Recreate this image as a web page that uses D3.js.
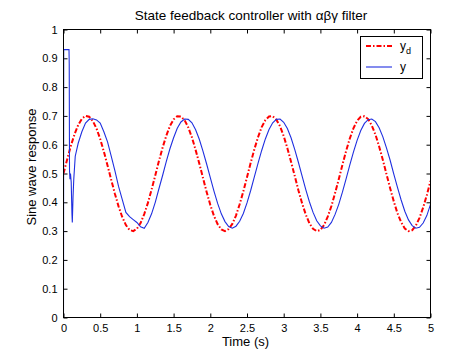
<!DOCTYPE html>
<html><head><meta charset="utf-8">
<script src="https://cdn.jsdelivr.net/npm/d3@7"></script>
<style>
body{margin:0;background:#fff;}
text{font-family:"Liberation Sans",Arial,sans-serif;fill:#000;}
</style></head>
<body>
<svg id="chart" width="474" height="355"></svg>
<script>
// ---- data ----
const sampleStep = 0.05; // seconds between samples of the regular records
// desired output y_d, sampled every 0.05 s from 0 to 5 s
const ydValues = [0.500,0.549,0.596,0.636,0.668,0.690,0.700,0.697,0.682,0.656,
0.620,0.576,0.528,0.478,0.430,0.386,0.349,0.321,0.304,0.300,
0.308,0.328,0.359,0.398,0.444,0.493,0.543,0.590,0.631,0.665,
0.688,0.699,0.698,0.685,0.660,0.625,0.582,0.535,0.485,0.436,
0.391,0.353,0.324,0.306,0.300,0.307,0.325,0.354,0.393,0.438,
0.487,0.537,0.584,0.626,0.661,0.685,0.698,0.699,0.687,0.664,
0.630,0.588,0.541,0.492,0.442,0.397,0.358,0.327,0.308,0.300,
0.304,0.321,0.350,0.387,0.432,0.480,0.530,0.578,0.621,0.657,
0.683,0.697,0.699,0.689,0.667,0.635,0.594,0.548,0.498,0.449,
0.403,0.362,0.331,0.309,0.300,0.303,0.319,0.346,0.382,0.425,0.474];
// output y: initial transient (irregular times)
const yTransientTimes  = [0,0.003,0.075,0.078,0.082,0.088,0.095,0.105,0.115,0.12,0.13,0.14,0.16,0.2,0.25,0.3,0.35,0.4,0.45];
const yTransientValues = [0,0.93,0.93,0.88,0.51,0.48,0.50,0.47,0.36,0.33,0.42,0.48,0.56,0.605,0.645,0.675,0.688,0.69,0.686];
// output y from t = 0.5 s to 5 s, every 0.05 s
const yValues = [0.675,0.645,0.610,0.560,0.510,0.455,0.410,0.365,0.350,0.340,
0.330,0.315,0.310,0.330,0.360,0.400,0.447,0.493,0.541,0.586,
0.624,0.657,0.679,0.689,0.688,0.676,0.652,0.619,0.578,0.533,
0.486,0.439,0.396,0.360,0.333,0.316,0.310,0.317,0.334,0.361,
0.398,0.441,0.488,0.535,0.580,0.620,0.653,0.676,0.688,0.689,
0.678,0.656,0.624,0.584,0.539,0.492,0.445,0.402,0.365,0.336,
0.318,0.310,0.314,0.330,0.358,0.393,0.435,0.481,0.529,0.574,
0.615,0.649,0.674,0.687,0.689,0.680,0.659,0.628,0.589,0.546,
0.498,0.452,0.408,0.369,0.339,0.319,0.310,0.313,0.328,0.354,0.393];
const yStart = 0.5;
const xTicks = [0,0.5,1,1.5,2,2.5,3,3.5,4,4.5,5];
const yTicks = [0,0.1,0.2,0.3,0.4,0.5,0.6,0.7,0.8,0.9,1];
const xTickLabels = ["0","0.5","1","1.5","2","2.5","3","3.5","4","4.5","5"];
const yTickLabels = ["0","0.1","0.2","0.3","0.4","0.5","0.6","0.7","0.8","0.9","1"];

// ---- build records ----
const ydData = ydValues.map((v,i)=>[i*sampleStep, v]);
const yData = yTransientTimes.map((t,i)=>[t, yTransientValues[i]])
  .concat(yValues.map((v,i)=>[yStart + i*sampleStep, v]));

// ---- layout ----
const L=63.5, R=430.5, T=29.5, B=317.5;
const svg = d3.select("#chart");
const x = d3.scaleLinear().domain([0,5]).range([L,R]);
const y = d3.scaleLinear().domain([0,1]).range([B,T]);

svg.append("rect").attr("x",0).attr("y",0).attr("width",474).attr("height",355).attr("fill","#fff");

svg.append("defs").append("clipPath").attr("id","clip")
  .append("rect").attr("x",L).attr("y",T).attr("width",R-L).attr("height",B-T);

// axes with inward ticks
const tl = 4;
const gx = svg.append("g").attr("transform",`translate(0,${B})`)
  .call(d3.axisBottom(x).tickValues(xTicks).tickSizeInner(-tl).tickSizeOuter(0).tickPadding(6)
    .tickFormat((d,i)=>xTickLabels[i]));
const gxt = svg.append("g").attr("transform",`translate(0,${T})`)
  .call(d3.axisTop(x).tickValues(xTicks).tickSizeInner(-tl).tickSizeOuter(0).tickFormat(""));
const gy = svg.append("g").attr("transform",`translate(${L},0)`)
  .call(d3.axisLeft(y).tickValues(yTicks).tickSizeInner(-tl).tickSizeOuter(0).tickPadding(6)
    .tickFormat((d,i)=>yTickLabels[i]));
const gyr = svg.append("g").attr("transform",`translate(${R},0)`)
  .call(d3.axisRight(y).tickValues(yTicks).tickSizeInner(-tl).tickSizeOuter(0).tickFormat(""));
[gx,gxt,gy,gyr].forEach(g=>{
  g.select(".domain").remove();
  g.selectAll("line").attr("stroke","#000");
  g.selectAll("text").style("font-size","11px").attr("fill","#000");
});
gx.selectAll("text").attr("dy","0.75em");

const line = d3.line().x(d=>x(d[0])).y(d=>y(d[1]));
const plot = svg.append("g").attr("clip-path","url(#clip)");
plot.append("path").datum(ydData).attr("d",line).attr("fill","none")
  .attr("stroke","#f00").attr("stroke-width",2).attr("stroke-dasharray","5,2,1.5,2");
plot.append("path").datum(yData).attr("d",line).attr("fill","none")
  .attr("stroke","#1f2fe0").attr("stroke-width",1.1);

svg.append("rect").attr("x",L).attr("y",T).attr("width",R-L).attr("height",B-T)
  .attr("fill","none").attr("stroke","#000").attr("stroke-width",1);

// title and labels
svg.append("text").attr("x",251).attr("y",19.5).attr("text-anchor","middle")
  .style("font-size","13.5px").text("State feedback controller with αβγ filter");
svg.append("text").attr("x",245.5).attr("y",346).attr("text-anchor","middle")
  .style("font-size","13px").text("Time (s)");
svg.append("text").attr("transform",`translate(36,167) rotate(-90)`).attr("text-anchor","middle")
  .style("font-size","13px").text("Sine wave response");

// legend
const lg = svg.append("g");
lg.append("rect").attr("x",360.5).attr("y",36.5).attr("width",62).attr("height",42)
  .attr("fill","#fff").attr("stroke","#000");
lg.append("line").attr("x1",366).attr("x2",392).attr("y1",46).attr("y2",46)
  .attr("stroke","#f00").attr("stroke-width",2).attr("stroke-dasharray","5,2,1.5,2");
lg.append("line").attr("x1",366).attr("x2",392).attr("y1",67).attr("y2",67)
  .attr("stroke","#1f2fe0").attr("stroke-width",1.1);
const t1 = lg.append("text").attr("x",400).attr("y",50).style("font-size","12px");
t1.append("tspan").text("y");
t1.append("tspan").attr("dy",4).style("font-size","9px").text("d");
lg.append("text").attr("x",400).attr("y",71).style("font-size","12px").text("y");
</script>
</body></html>
